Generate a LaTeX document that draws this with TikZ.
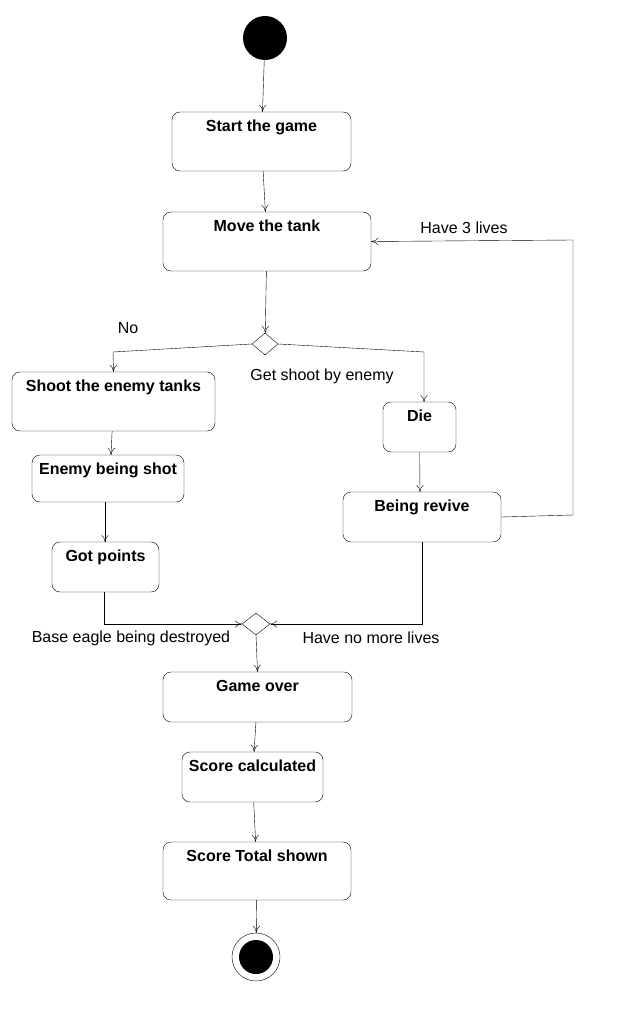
\documentclass[tikz,border=0pt]{standalone}
\usepackage{fontspec}
\setmainfont{Liberation Sans}
\usetikzlibrary{shapes.geometric,arrows.meta,positioning}
\tikzset{
  act/.style={draw, rounded corners=8pt, minimum width=#1, inner sep=0pt},
  acttext/.style={font=\fontsize{16}{18}\selectfont\bfseries, anchor=north, yshift=-5pt},
  branch/.style={draw, diamond, fill=white, inner sep=0pt, minimum width=26pt, minimum height=22pt},
  flow/.style={-{To[length=7pt,width=7pt]}},
  guard/.style={font=\fontsize{16}{18}\selectfont}
}
\begin{document}
\begin{tikzpicture}[x=1pt,y=-1pt]
    \useasboundingbox (0,0) rectangle (623,1032);
    \fill[white] (0,0) rectangle (623,1032);

    % Start and end
    \node[circle, fill=black, minimum size=44pt, inner sep=0pt] (start) at (265,38) {};
    \node[circle, draw, minimum size=48pt, inner sep=0pt] (finish) at (256,957) {};
    \fill (finish) circle (17);

    % Activities
    \node[act=179pt, minimum height=59pt, label={[acttext]north:Start the game}] (game) at (261.5,141.5) {};
    \node[act=208pt, minimum height=59pt, label={[acttext]north:Move the tank}] (move) at (267,241.5) {};
    \node[branch] (choice) at (265,344) {};
    \node[act=203pt, minimum height=59pt, label={[acttext]north:Shoot the enemy tanks}] (shoot) at (113.5,401.5) {};
    \node[act=152pt, minimum height=47pt, label={[acttext]north:Enemy being shot}] (shot) at (108,478.5) {};
    \node[act=107pt, minimum height=50pt, label={[acttext]north:Got points}] (points) at (105.5,567) {};
    \node[act=73pt, minimum height=50pt, label={[acttext]north:Die}] (die) at (419.5,427) {};
    \node[act=158pt, minimum height=50pt, label={[acttext]north:Being revive}] (revive) at (422,517) {};
    \node[branch, minimum width=28pt] (merge) at (256,624) {};
    \node[act=189pt, minimum height=50pt, label={[acttext]north:Game over}] (over) at (257.5,697) {};
    \node[act=141pt, minimum height=50pt, label={[acttext]north:Score calculated}] (score) at (252.5,777) {};
    \node[act=188pt, minimum height=58pt, label={[acttext]north:Score Total shown}] (total) at (257,871) {};

    % Flow
    \draw[flow] (start) -- (game);
    \draw[flow] (game) -- (move);
    \draw[flow] (move) -- (choice);
    \draw[flow] (choice.west) -- (113,352) -- (shoot.north);
    \draw[flow] (choice.east) -- (424,352) -- (424,402);
    \draw[flow] (shoot) -- (111,455);
    \draw[flow] (105,502) -- (105,542);
    \draw[flow] (die) -- (420,492);
    \draw[flow] (revive.east) -- (573,515) -- (573,240) -- (move.east);
    \draw[flow] (104,592) -- (104,624) -- (merge.west);
    \draw[flow] (422,542) -- (422,624) -- (merge.east);
    \draw[flow] (merge.south) -- (over.north);
    \draw[flow] (over) -- (score);
    \draw[flow] (score) -- (total);
    \draw[flow] (total) -- (finish);

    % Guards
    \node[guard] (no) at (128,328) {No};
    \node[guard] (hit) at (322,376) {Get shoot by enemy};
    \node[guard] (lives) at (464,228) {Have 3 lives};
    \node[guard] (eagle) at (131,638) {Base eagle being destroyed};
    \node[guard] (nolives) at (371,638) {Have no more lives};
\end{tikzpicture}
\end{document}
